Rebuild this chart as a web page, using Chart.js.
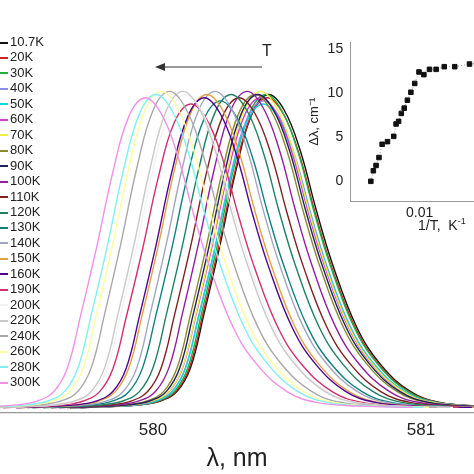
<!DOCTYPE html>
<html>
<head>
<meta charset="utf-8">
<script src="https://cdn.jsdelivr.net/npm/chart.js@4.4.1/dist/chart.umd.min.js"></script>
<style>
  html, body { margin: 0; padding: 0; background: #fff; }
  #wrap { position: relative; width: 474px; height: 474px; overflow: hidden; font-family: "Liberation Sans", Arial, sans-serif; }
  #main { position: absolute; left: 0; top: 0; }
  #inset { position: absolute; left: 305px; top: 30px; }
  #legend { position: absolute; left: 0; top: 34px; font-size: 13px; line-height: 15.45px; color: #222; }
  #legend div { white-space: nowrap; }
  #legend span { display: inline-block; width: 8px; height: 2px; vertical-align: middle; margin-right: 2px; }
  .lbl { position: absolute; color: #222; white-space: nowrap; }
</style>
</head>
<body>
<div id="wrap">
  <canvas id="main" width="474" height="474"></canvas>
  <canvas id="inset" width="220" height="183"></canvas>
  <div id="legend"></div>
  <div class="lbl" style="left:406px; top:204px; font-size:14px;">0.01</div>
  <div class="lbl" style="left:418px; top:216px; font-size:14px;">1/T,&nbsp; K<sup style="font-size:9px">-1</sup></div>
  <div class="lbl" style="left:262px; top:42px; font-size:16px;">T</div>
</div>
<script>
// temperatures in legend order
const temps = ["10.7K", "20K", "30K", "40K", "50K", "60K", "70K", "80K", "90K", "100K", "110K", "120K",
  "130K", "140K", "150K", "160K", "190K", "200K", "220K", "240K", "260K", "280K", "300K"];
const colors = ["#111111", "#d02020", "#20b040", "#8c8cf0", "#10d8e0", "#d040d0", "#f4f040", "#8a8a30",
  "#202060", "#9020a0", "#802020", "#208060", "#108080", "#a0a8c0", "#e0a040", "#500090",
  "#d03070", "#f2f2f2", "#c8c8c8", "#a8a8a8", "#ffff9a", "#80f0f0", "#f090e8"];
// peak wavelengths (nm) and peak heights
const peaks = [580.43, 580.425, 580.42, 580.41, 580.41, 580.4, 580.4, 580.38, 580.39, 580.35, 580.32,
  580.29, 580.25, 580.23, 580.2, 580.19, 580.14, 580.12, 580.11, 580.06, 580.03, 580.01, 579.97];
const heights = [0.99, 0.98, 0.99, 0.97, 0.96, 0.98, 1.0, 0.99, 0.99, 1.0, 0.98, 0.99,
  0.97, 1.0, 0.99, 0.98, 0.96, 0.99, 1.0, 1.0, 1.0, 0.99, 0.98];
// line shape: offset from peak (nm) and relative intensity
const shapeOffset = [-0.7, -0.6, -0.48, -0.4, -0.34, -0.29, -0.24, -0.18, -0.12, -0.06, 0,
  0.06, 0.12, 0.18, 0.24, 0.33, 0.42, 0.53, 0.64, 0.8, 1.0];
const shapeValue = [0.003, 0.006, 0.012, 0.025, 0.055, 0.13, 0.3, 0.52, 0.76, 0.94, 1,
  0.95, 0.82, 0.63, 0.46, 0.26, 0.14, 0.055, 0.02, 0.008, 0.004];
// inset: shift vs 1/T
const insetT = [300, 280, 260, 240, 220, 190, 160, 150, 140, 130, 120, 110, 100, 90, 80, 70, 60, 50, 40, 30, 20, 10.7];
const insetShift = [0, 1.2, 1.8, 2.7, 4.2, 4.5, 5.1, 6.5, 6.8, 7.7, 8.3, 9.2, 10.1, 11.1, 12.4, 12.1, 12.7, 12.7, 13.0, 13.0, 13.3, 13.5];

const legend = document.getElementById("legend");
temps.forEach((t, i) => {
  const d = document.createElement("div");
  d.innerHTML = '<span style="background:' + colors[i] + '"></span>' + t;
  legend.appendChild(d);
});

// draw high temperatures first so low-T curves are on top
const datasets = temps.map((t, i) => ({
  label: t,
  data: shapeOffset.map((o, k) => ({ x: peaks[i] + o, y: shapeValue[k] * heights[i] })),
  borderColor: colors[i],
  borderWidth: 1.4,
  pointRadius: 0,
  tension: 0.4,
})).reverse();

const arrowPlugin = {
  id: "arrow",
  afterDraw(chart) {
    const c = chart.ctx;
    c.save();
    c.strokeStyle = "#333";
    c.lineWidth = 1;
    c.beginPath();
    c.moveTo(262, 67); c.lineTo(158, 67);
    c.stroke();
    c.beginPath();
    c.moveTo(155, 67); c.lineTo(165, 63); c.lineTo(165, 71); c.closePath();
    c.fillStyle = "#333"; c.fill();
    c.restore();
  },
};

new Chart(document.getElementById("main"), {
  type: "line",
  data: { datasets },
  plugins: [arrowPlugin],
  options: {
    responsive: false,
    animation: false,
    layout: { padding: 0 },
    plugins: { legend: { display: false }, tooltip: { enabled: false } },
    scales: {
      x: {
        type: "linear",
        min: 579.429,
        max: 581.198,
        border: { color: "#999", width: 1.2 },
        grid: { display: false, drawTicks: true, tickLength: 5 },
        ticks: {
          color: "#222",
          font: { size: 17, family: "Liberation Sans" },
          callback: (v) => (Number.isInteger(v) ? v : ""),
          maxRotation: 0,
          autoSkip: false,
        },
        afterBuildTicks: (s) => { s.ticks = [{ value: 580 }, { value: 580.5 }, { value: 581 }]; },
        title: { display: true, text: "λ, nm", font: { size: 25, family: "Liberation Sans" }, color: "#222", padding: 0 },
      },
      y: { display: false, min: -0.0125, max: 1.288 },
    },
  },
});

new Chart(document.getElementById("inset"), {
  type: "scatter",
  data: {
    datasets: [{
      data: insetT.map((t, i) => ({ x: 1 / t, y: insetShift[i] })),
      showLine: true,
      borderColor: "#999",
      borderWidth: 1,
      borderDash: [1, 2],
      pointStyle: "rect",
      pointRadius: 3.2,
      pointBackgroundColor: "#111",
      pointBorderColor: "#111",
    }],
  },
  options: {
    responsive: false,
    animation: false,
    layout: { padding: { top: 12, right: 0, bottom: 0, left: 0 } },
    plugins: { legend: { display: false }, tooltip: { enabled: false } },
    scales: {
      x: {
        type: "logarithmic",
        min: 0.00189,
        max: 0.2,
        border: { color: "#999" },
        grid: { display: false, drawTicks: true, tickLength: 4 },
        ticks: { display: false },
      },
      y: {
        min: -2.3,
        max: 15.8,
        border: { color: "#999" },
        grid: { display: false, drawTicks: true, tickLength: 4 },
        afterBuildTicks: (s) => { s.ticks = [0, 5, 10, 15].map((v) => ({ value: v })); },
        ticks: { color: "#222", font: { size: 14, family: "Liberation Sans" } },
        title: { display: true, text: "Δλ, cm⁻¹", font: { size: 13, family: "Liberation Sans" }, color: "#222", padding: 2 },
      },
    },
  },
});
</script>
</body>
</html>
